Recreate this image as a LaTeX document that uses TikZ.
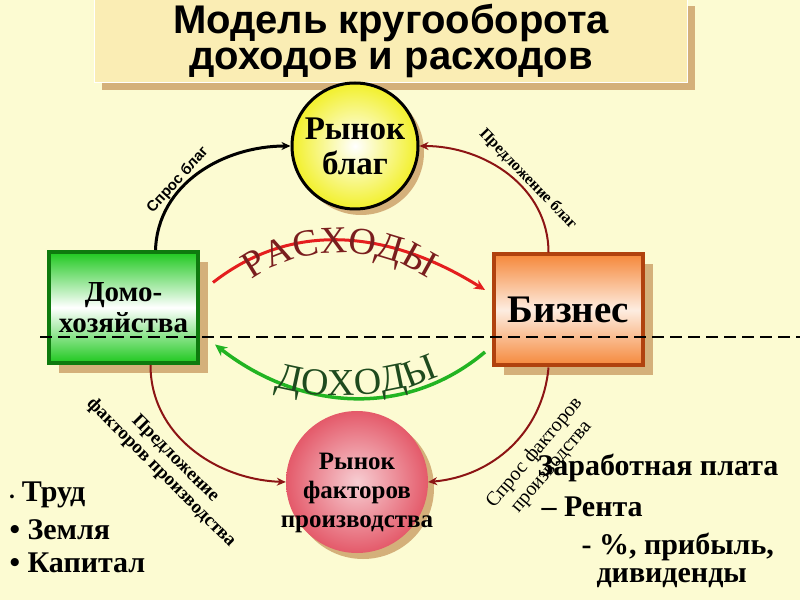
\documentclass[tikz,border=0pt]{standalone}
\usepackage{fontspec}
\setmainfont{Liberation Serif}
\newfontfamily\titlefont{Liberation Sans}
\usetikzlibrary{calc}
\usetikzlibrary{arrows.meta}
\usetikzlibrary{decorations.text}

\definecolor{bgyellow}{HTML}{FCFBD2}
\definecolor{titlefill}{HTML}{FAEDB4}
\definecolor{shadowtan}{HTML}{D4B07A}
\definecolor{hhgreen}{HTML}{1EC81E}
\definecolor{hhborder}{HTML}{0E7A0E}
\definecolor{bizorange}{HTML}{F5883A}
\definecolor{bizborder}{HTML}{B0420E}
\definecolor{flowred}{HTML}{8C1414}
\definecolor{rasred}{HTML}{E41E1E}
\definecolor{rastext}{HTML}{7A1E1E}
\definecolor{dohgreen}{HTML}{22B422}
\definecolor{dohtext}{HTML}{1E4A1E}
\definecolor{goodsyellow}{HTML}{F2F02A}
\definecolor{factpink}{HTML}{E45A6A}

\newcommand{\bigflowfont}{\fontsize{38}{40}\selectfont}

\tikzset{
  tanshadow/.style={preaction={fill=shadowtan,transform canvas={shift={(#1,-#1)}}}},
  agentbox/.style={line width=4pt,minimum width=149pt,minimum height=111pt,align=center,inner sep=0pt},
  market/.style={circle,inner sep=0pt},
  flowarc/.style={line width=2pt,flowred,-{Stealth[length=9pt,width=8pt]}},
  arclabel/.style={font=\bfseries\fontsize{16}{18}\selectfont,align=center},
  listitem/.style={anchor=west,font=\bfseries\fontsize{30}{30}\selectfont},
  payitem/.style={anchor=west,font=\bfseries\fontsize{30}{30}\selectfont},
}

\begin{document}
\begin{tikzpicture}[x=1pt,y=1pt]
            \useasboundingbox[fill=bgyellow] (0,0) rectangle (800,600);
            \coordinate (dl) at (40,263);
            \coordinate (dr) at (800,263);

            \node[tanshadow=7pt,fill=titlefill,draw=white,line width=1pt,minimum width=593pt,minimum height=84pt,align=center,
                  font=\titlefont\bfseries\fontsize{40}{36}\selectfont] (title) at (391,559) {Модель кругооборота\\доходов и расходов};

            \node[market,tanshadow=6pt,draw=black,line width=3pt,inner color=white,outer color=goodsyellow,minimum size=126pt,
                  align=center,font=\bfseries\fontsize{33}{35}\selectfont] (rb) at (355,454) {Рынок\\благ};
            \node[market,tanshadow=6pt,inner color=white!70!factpink,outer color=factpink,minimum size=142pt] (rf) at (357,118) {};
            \node[align=center,font=\bfseries\fontsize{25}{29}\selectfont] (rftext) at ($(rf)+(0,-11)$) {Рынок\\факторов\\производства};

            \node[agentbox,tanshadow=10pt,draw=hhborder,top color=hhgreen,bottom color=hhgreen,middle color=white,
                  font=\bfseries\fontsize{29}{31}\selectfont] (hh) at (123.5,292.5) {Домо-\\хозяйства};
            \node[agentbox,tanshadow=10pt,draw=bizborder,top color=bizorange,bottom color=bizorange,middle color=white!85!bizorange,
                  font=\bfseries\fontsize{39}{40}\selectfont] (biz) at (568.5,290) {Бизнес};

            \draw[line width=3pt,-{Stealth[length=9pt,width=8pt]}] ($(hh.north)+(32,0)$) to[out=88,in=180] (rb.west);
            \draw[flowarc] ($(biz.north)+(-20,0)$) to[out=90,in=0] (rb.east);
            \draw[flowarc] ($(hh.south)+(27,0)$) to[out=-90,in=178] (rf.west);
            \draw[flowarc] ($(biz.south)+(-20,0)$) to[out=-95,in=5] (rf.east);

            \draw[line width=3pt,rasred,-{Stealth[length=11pt,width=10pt]}] ($(hh.east)+(13,25)$) to[out=38,in=148] ($(biz.west)+(-7,20)$);
            \draw[line width=3.5pt,dohgreen,-{Stealth[length=12pt,width=11pt]}] ($(biz.west)+(-7,-42)$) to[out=-140,in=-38] ($(hh.east)+(15,-37)$);

            \path[decorate,decoration={text along path,text={|\bigflowfont|РАСХОДЫ},text align=center,text color=rastext}]
                  (240,310) .. controls (290,360) and (390,360) .. (440,310);
            \path[decorate,decoration={text along path,text={|\bigflowfont|ДОХОДЫ},text align=center,text color=dohtext}]
                  (262,218) .. controls (300,198) and (410,198) .. (450,233);

            \draw[dash pattern=on 12pt off 6pt,line width=1.5pt] (dl)--(dr);

            \node[font=\titlefont\bfseries\fontsize{15}{16}\selectfont,rotate=48] (sb) at (178,420) {Спрос благ};
            \node[arclabel,rotate=-46] (pb) at (528,421) {Предложение благ};
            \node[arclabel,font=\bfseries\fontsize{19}{20}\selectfont,rotate=-45] (pf) at (168,134) {Предложение\\факторов производства};
            \node[arclabel,font=\fontsize{20}{22}\selectfont,rotate=50] (sf) at (543,140) {Спрос факторов\\производства};

            \node[listitem] (trud) at (6,105) {{\fontsize{14}{14}\selectfont•}~Труд};
            \node[listitem] (zemlya) at (6,70) {•~Земля};
            \node[listitem] (kapital) at (6,37) {•~Капитал};

            \node[payitem] (zp) at (534,132) {Заработная плата};
            \node[payitem] (renta) at (538,93) {– Рента};
            \node[payitem] (prib) at (578,53) {- \%, прибыль,};
            \node[payitem] (div) at (593,22) {дивиденды};
        \end{tikzpicture}
\end{document}
